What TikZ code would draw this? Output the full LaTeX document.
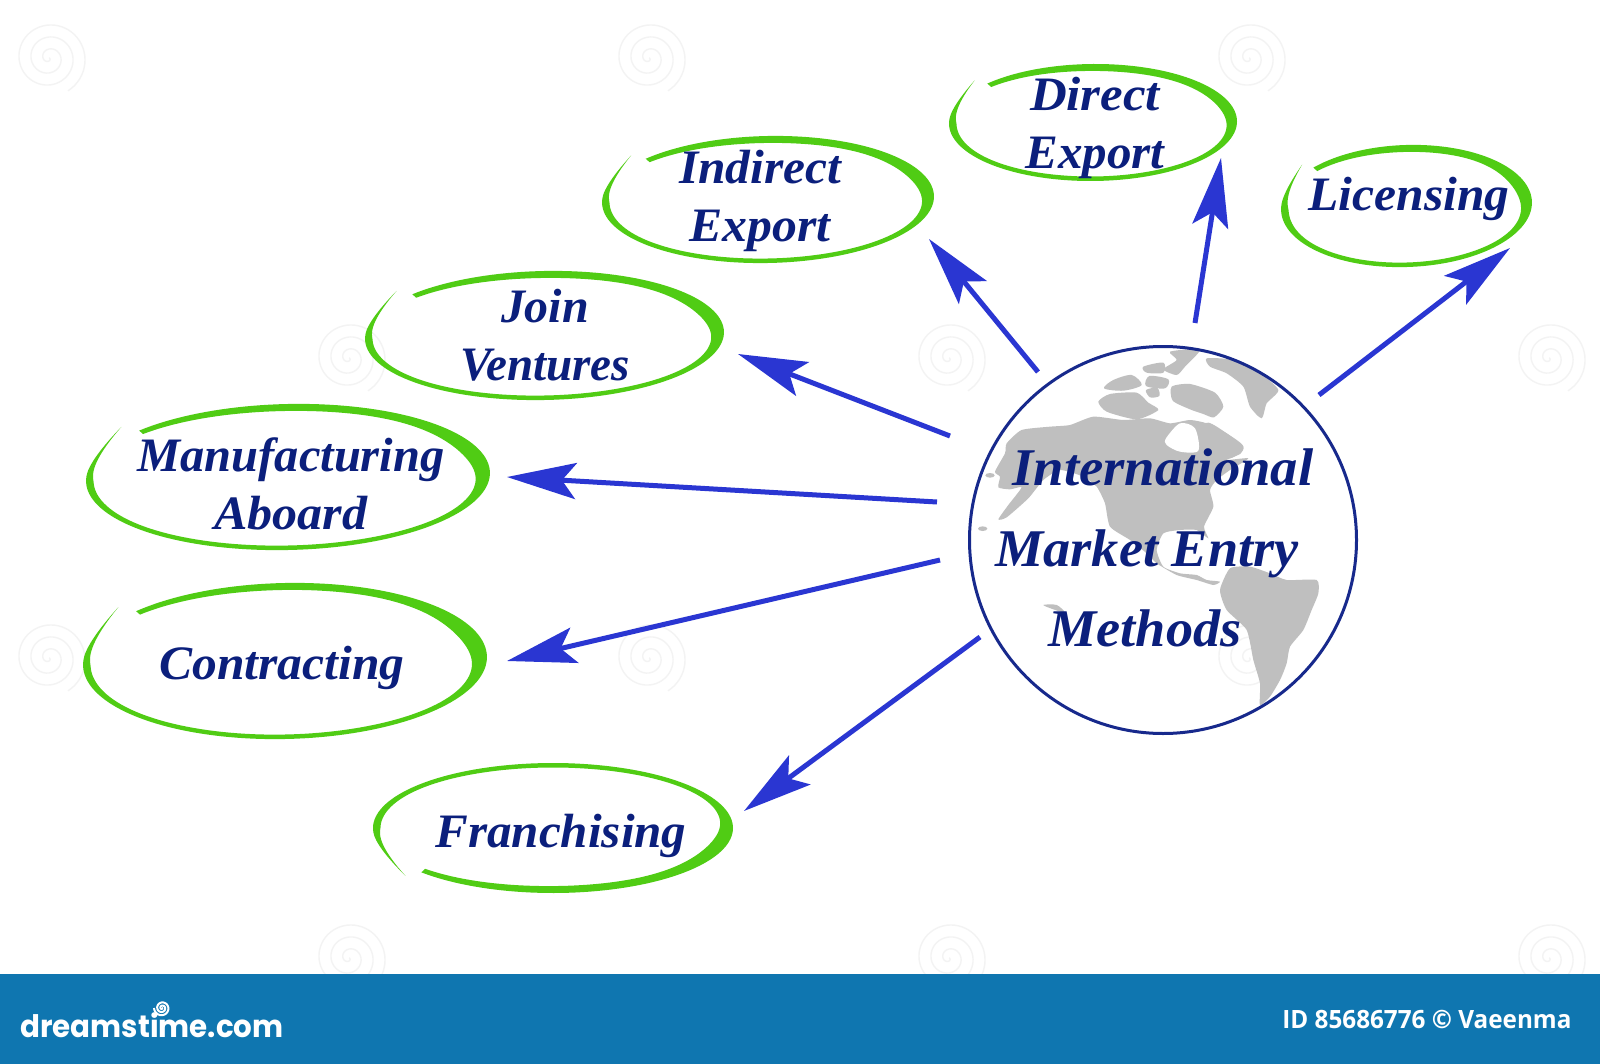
\documentclass[tikz,border=0pt]{standalone}
\usepackage{fontspec}
\usepackage{graphicx}
\setmainfont{Liberation Serif}
\newfontfamily\logofont{Poppins}
\newfontfamily\idfont{Open Sans}
\usetikzlibrary{arrows.meta,shapes.geometric}
\definecolor{brushgreen}{HTML}{50CC14}
\definecolor{arrowblue}{HTML}{2A36D2}
\definecolor{labelnavy}{HTML}{0B1F7C}
\definecolor{hubnavy}{HTML}{17298C}
\definecolor{mapgray}{HTML}{BFBFBF}
\definecolor{footblue}{HTML}{0F76B0}
\definecolor{wmgray}{HTML}{F3F3F3}
\newcommand{\fitw}[2]{\resizebox{#1pt}{\height}{#2}}
% cx cy a b rot flip wr
\newcommand{\brushring}[7]{%
  \fill[brushgreen,shift={(#1,#2)},rotate=#5,yscale=#6]
    plot[domain=-137:215,samples=150,variable=\t]
      ({(#3)*cos(\t)},{(#4)*sin(\t)-(#4)/73*12*dy(\t)})
    -- plot[domain=215:-137,samples=150,variable=\t]
      ({((#3)-ww(\t,#7))*cos(\t)},{((#4)-ww(\t,#7))*sin(\t)-(#4)/73*12*dy(\t)})
    -- cycle;}
\newcommand{\spiralmark}[2]{%
  \draw[wmgray,line width=.7pt,shift={(#1,#2)}]
    plot[domain=0:1140,samples=90,variable=\t,smooth]
      ({38*(\t/1140)*cos(\t)},{38*(\t/1140)*sin(\t)});}
\tikzset{
  lbl/.style={text=labelnavy,font=\fontsize{24}{29}\selectfont\bfseries\itshape,align=center,inner sep=0pt,anchor=base},
  hubl/.style={text=labelnavy,font=\fontsize{26.5}{30}\selectfont\bfseries\itshape,inner sep=0pt,anchor=base},
  conn/.style={arrowblue,line width=2.5pt,-{Stealth[length=34.5pt,width=18pt,inset=7pt]}},
  landmass/.style={fill=mapgray,draw=none},
}
\begin{document}
\begin{tikzpicture}[x=.5pt,y=-.5pt,
  declare function={
    gs(\v)=exp(-(\v)*(\v));
    ww(\t,\r)=(4.5+2.5*gs((\t+80)/50)+(\r)*gs((\t+12)/32)+3*gs((\t-180)/28))*min(1,(215-\t)/35);
    dy(\t)=(max(0,\t-190)/25)*(max(0,\t-190)/25);
  }]
\useasboundingbox (0,0) rectangle (1600,1064);
\fill[white] (0,0) rectangle (1600,1064);
% watermark
\begin{scope}
\clip (0,0) rectangle (1600,974);
\foreach \p/\q in {49/58,649/58,1249/58,349/358,949/358,1549/358,49/658,649/658,1249/658,349/958,949/958,1549/958}{\spiralmark{\p}{\q}}
\end{scope}
% globe map
\begin{scope}
\clip (1163,540) circle[radius=193];
\begin{scope}[shift={(950,330)},scale=.33333]
\fill[landmass] plot[smooth cycle,tension=.35] coordinates {(135,425)(165,370)(170,340)(215,300)(300,290)(360,285)(430,260)(520,270)(600,265)(660,280)(720,270)(770,280)(830,310)(880,350)(870,372)(830,390)(895,385)(840,420)(800,450)(780,480)(790,530)(762,590)(775,625)(740,600)(690,600)(640,610)(620,660)(640,710)(690,730)(740,735)(770,750)(810,755)(790,765)(740,750)(680,735)(620,700)(590,670)(540,630)(480,590)(465,520)(440,470)(400,440)(330,420)(280,450)(235,505)(170,562)(145,568)(175,525)(215,472)(180,478)(145,472)(150,440)};
\fill[white] plot[smooth cycle,tension=.5] coordinates {(648,325)(690,280)(735,295)(745,362)(690,365)(650,345)};
\fill[landmass] plot[smooth cycle,tension=.5] coordinates {(745,300)(775,278)(830,310)(880,350)(840,385)(770,365)(750,340)};
\fill[landmass] plot[smooth cycle,tension=.4] coordinates {(445,215)(480,192)(560,188)(595,218)(625,240)(560,268)(470,245)};
\fill[landmass] plot[smooth cycle,tension=.5] coordinates {(462,175)(490,150)(545,135)(575,165)(520,182)};
\fill[landmass] plot[smooth cycle,tension=.4] coordinates {(665,170)(720,162)(795,188)(820,230)(792,262)(760,252)(720,238)(668,212)};
\fill[landmass] plot[smooth cycle,tension=.4] coordinates {(660,65)(750,58)(705,110)(680,135)(640,118)(680,90)};
\fill[landmass] plot[smooth cycle,tension=.5] coordinates {(580,110)(640,98)(640,128)(590,128)};
\fill[landmass] plot[smooth cycle,tension=.5] coordinates {(598,138)(655,148)(645,175)(588,168)};
\fill[landmass] plot[smooth cycle,tension=.5] coordinates {(588,180)(622,174)(628,198)(600,202)};
\fill[landmass] plot[smooth cycle,tension=.4] coordinates {(770,85)(850,90)(930,130)(985,180)(950,220)(935,265)(900,230)(880,170)(830,130)(780,110)};
\fill[landmass] plot[smooth cycle,tension=.35] coordinates {(810,780)(840,715)(900,710)(960,730)(1010,750)(1100,750)(1105,790)(1085,840)(1060,900)(1020,950)(1010,1000)(990,1050)(960,1100)(930,1125)(930,1060)(910,990)(890,900)(830,840)};
\fill[landmass] plot[smooth cycle,tension=.5] coordinates {(280,825)(320,825)(345,848)(310,838)};
\fill[landmass] (98,596) ellipse[x radius=14,y radius=7];
\fill[landmass] (120,436) ellipse[x radius=14,y radius=7];
\end{scope}
\end{scope}
% hub
\node[circle,draw=hubnavy,line width=1.5pt,minimum size=193.5pt,inner sep=0pt] (hub) at (1163,540) {};
\node[hubl] (hubA) at (1163,485) {\fitw{150.5}{International}};
\node[hubl] (hubB) at (1147,566) {\fitw{151.5}{Market Entry}};
\node[hubl] (hubC) at (1145,646) {\fitw{96.5}{Methods}};
% rings
\brushring{768}{199.5}{166}{63.5}{1.2}{1}{9}
\brushring{1093}{122.5}{144}{58.5}{.5}{1}{7}
\brushring{1406.5}{206}{125.5}{61}{2}{1}{8}
\brushring{544.5}{335.5}{179.5}{64.5}{1.2}{1}{10}
\brushring{288}{477}{202}{73}{1.3}{1}{12}
\brushring{285}{661}{202}{78}{1.3}{1}{13}
\brushring{553}{828}{180}{65}{0}{-1}{10}
% labels (anchor=base of a two-line node is the last baseline)
\node[lbl] (indirect) at (760,242) {\fitw{81}{Indirect}\\\fitw{70.5}{Export}};
\node[lbl] (direct) at (1095,169) {\fitw{65}{Direct}\\\fitw{69.5}{Export}};
\node[lbl] (licensing) at (1409,211) {\fitw{100.5}{Licensing}};
\node[lbl] (join) at (545,380) {\fitw{44}{Join}\\\fitw{85}{Ventures}};
\node[lbl] (manuf) at (291,529) {\fitw{153.5}{Manufacturing}\\\fitw{76.5}{Aboard}};
\node[lbl] (contract) at (282,679) {\fitw{122.5}{Contracting}};
\node[lbl] (franch) at (561,847) {\fitw{125.5}{Franchising}};
% connectors
\coordinate (tailIndirect) at (1038,372); \coordinate (tipIndirect) at (929,239);
\coordinate (tailDirect) at (1195,323); \coordinate (tipDirect) at (1221,158);
\coordinate (tailLic) at (1319,395); \coordinate (tipLic) at (1510,248);
\coordinate (tailJoin) at (950,436); \coordinate (tipJoin) at (738,354);
\coordinate (tailManuf) at (937,502); \coordinate (tipManuf) at (507,477);
\coordinate (tailContract) at (940,560); \coordinate (tipContract) at (507,661);
\coordinate (tailFranch) at (980,637); \coordinate (tipFranch) at (744,811);
\draw[conn] (tailIndirect) -- (tipIndirect);
\draw[conn] (tailDirect) -- (tipDirect);
\draw[conn] (tailLic) -- (tipLic);
\draw[conn] (tailJoin) -- (tipJoin);
\draw[conn] (tailManuf) -- (tipManuf);
\draw[conn] (tailContract) -- (tipContract);
\draw[conn] (tailFranch) -- (tipFranch);
% footer
\fill[footblue] (0,974) rectangle (1600,1064);
\node[text=white,font=\logofont\bfseries\fontsize{15.5}{16}\selectfont,anchor=base west,inner sep=0pt] (logo) at (20,1037) {\fitw{131.5}{dreamstime.com}};
\draw[white,line width=1pt,shift={(162,1008)}]
  plot[domain=0:900,samples=50,variable=\t,smooth] ({8*(\t/900)*cos(\t)},{8*(\t/900)*sin(\t)});
\node[text=white,font=\idfont\bfseries\fontsize{12.6}{14}\selectfont,anchor=base west,inner sep=0pt] (idtext) at (1282,1028) {\fitw{144.5}{ID 85686776 © Vaeenma}};
\end{tikzpicture}
\end{document}
